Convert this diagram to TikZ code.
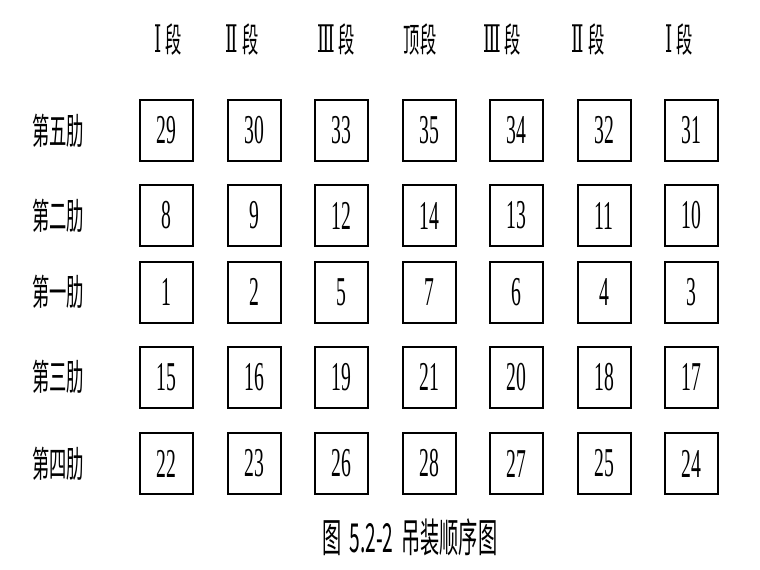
\documentclass[tikz,border=0pt]{standalone}
\usepackage{graphicx}
\usepackage{fontspec}
\setmainfont{Liberation Serif}
\newfontfamily\cjk{Noto Sans CJK SC}
\newfontfamily\numeral{DejaVu Serif}
\newcommand{\squeeze}[1]{\scalebox{0.48}[1]{#1}}
\newcommand{\rn}[1]{{\numeral\fontsize{38}{38}\selectfont #1}\hspace{0.25em}}
\tikzset{
	seqbox/.style={draw=black, line width=2pt, minimum width=53pt, minimum height=61pt, inner sep=0pt, font=\fontsize{41}{41}\selectfont},
	riblabel/.style={inner sep=0pt, font=\cjk\fontsize{36}{36}\selectfont},
	seglabel/.style={inner sep=0pt, font=\cjk\fontsize{34}{34}\selectfont},
	figcaption/.style={inner sep=0pt, font=\cjk\fontsize{40}{40}\selectfont}
}
\begin{document}
\begin{tikzpicture}[x=1pt, y=-1pt]
	\useasboundingbox[fill=white] (0,0) rectangle (760,570);
	% segment headers
	\node[seglabel] (s1) at (168,40) {\squeeze{\rn{Ⅰ}段}};
	\node[seglabel] (s2) at (242,40) {\squeeze{\rn{Ⅱ}段}};
	\node[seglabel] (s3) at (336,40) {\squeeze{\rn{Ⅲ}段}};
	\node[seglabel] (s4) at (420,40) {\squeeze{顶段}};
	\node[seglabel] (s5) at (502,40) {\squeeze{\rn{Ⅲ}段}};
	\node[seglabel] (s6) at (588,40) {\squeeze{\rn{Ⅱ}段}};
	\node[seglabel] (s7) at (679,40) {\squeeze{\rn{Ⅰ}段}};
	
	% rib labels
	\node[riblabel] (r5) at (58,131) {\squeeze{第五肋}};
	\node[riblabel] (r2) at (58,216) {\squeeze{第二肋}};
	\node[riblabel] (r1) at (58,292) {\squeeze{第一肋}};
	\node[riblabel] (r3) at (58,377) {\squeeze{第三肋}};
	\node[riblabel] (r4) at (58,464) {\squeeze{第四肋}};
	
	% 第五肋
	\node[seqbox] (b29) at (166.5,130.5) {\squeeze{29}};
	\node[seqbox] (b30) at (254.0,130.5) {\squeeze{30}};
	\node[seqbox] (b33) at (341.5,130.5) {\squeeze{33}};
	\node[seqbox] (b35) at (429.0,130.5) {\squeeze{35}};
	\node[seqbox] (b34) at (516.5,130.5) {\squeeze{34}};
	\node[seqbox] (b32) at (604.0,130.5) {\squeeze{32}};
	\node[seqbox] (b31) at (691.5,130.5) {\squeeze{31}};
	
	% 第二肋
	\node[seqbox] (b8) at (166.5,215.5) {\squeeze{8}};
	\node[seqbox] (b9) at (254.0,215.5) {\squeeze{9}};
	\node[seqbox] (b12) at (341.5,215.5) {\squeeze{12}};
	\node[seqbox] (b14) at (429.0,215.5) {\squeeze{14}};
	\node[seqbox] (b13) at (516.5,215.5) {\squeeze{13}};
	\node[seqbox] (b11) at (604.0,215.5) {\squeeze{11}};
	\node[seqbox] (b10) at (691.5,215.5) {\squeeze{10}};
	
	% 第一肋
	\node[seqbox] (b1) at (166.5,292) {\squeeze{1}};
	\node[seqbox] (b2) at (254.0,292) {\squeeze{2}};
	\node[seqbox] (b5) at (341.5,292) {\squeeze{5}};
	\node[seqbox] (b7) at (429.0,292) {\squeeze{7}};
	\node[seqbox] (b6) at (516.5,292) {\squeeze{6}};
	\node[seqbox] (b4) at (604.0,292) {\squeeze{4}};
	\node[seqbox] (b3) at (691.5,292) {\squeeze{3}};
	
	% 第三肋
	\node[seqbox] (b15) at (166.5,377) {\squeeze{15}};
	\node[seqbox] (b16) at (254.0,377) {\squeeze{16}};
	\node[seqbox] (b19) at (341.5,377) {\squeeze{19}};
	\node[seqbox] (b21) at (429.0,377) {\squeeze{21}};
	\node[seqbox] (b20) at (516.5,377) {\squeeze{20}};
	\node[seqbox] (b18) at (604.0,377) {\squeeze{18}};
	\node[seqbox] (b17) at (691.5,377) {\squeeze{17}};
	
	% 第四肋
	\node[seqbox] (b22) at (166.5,463.5) {\squeeze{22}};
	\node[seqbox] (b23) at (254.0,463.5) {\squeeze{23}};
	\node[seqbox] (b26) at (341.5,463.5) {\squeeze{26}};
	\node[seqbox] (b28) at (429.0,463.5) {\squeeze{28}};
	\node[seqbox] (b27) at (516.5,463.5) {\squeeze{27}};
	\node[seqbox] (b25) at (604.0,463.5) {\squeeze{25}};
	\node[seqbox] (b24) at (691.5,463.5) {\squeeze{24}};
	
	\node[figcaption] (cap) at (410,537) {\squeeze{图\hspace{0.4em}5.2-2\hspace{0.4em}吊装顺序图}};
\end{tikzpicture}
\end{document}
